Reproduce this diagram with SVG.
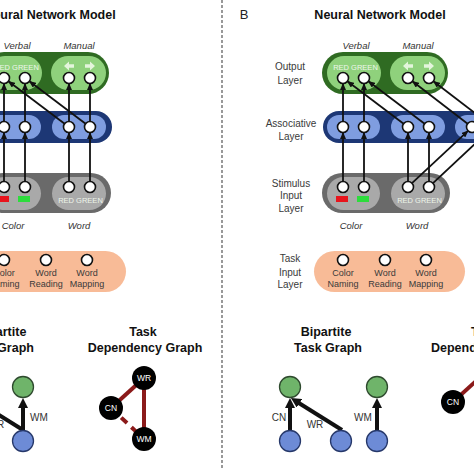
<svg xmlns="http://www.w3.org/2000/svg" width="474" height="474" viewBox="0 0 474 474">
<defs>
<style>
text{font-family:"Liberation Sans",Arial,sans-serif}
.title{font-weight:bold;font-size:12.5px;fill:#111;text-anchor:middle}
.lbl{font-size:10px;fill:#3a3a3a;text-anchor:middle}
.ital{font-style:italic;font-size:9.5px;fill:#333;text-anchor:middle}
.task{font-size:9px;fill:#3a3a3a;text-anchor:middle}
.wt{font-size:7.5px;fill:#eef6ea;text-anchor:middle}
.gl{font-size:10px;fill:#333;text-anchor:middle}
.dn{font-size:8.5px;text-anchor:middle}
.node{fill:#fff;stroke:#111;stroke-width:1.6}
.conn{stroke:#111;stroke-width:1.8;fill:none;marker-end:url(#ah)}
.big{stroke:#111;stroke-width:4;fill:none;marker-end:url(#bah)}
.gOut{fill:#2f6b22}.gIn{fill:#8fd17c}
.bOut{fill:#1d3775}.bIn{fill:#7f9de0}
.sOut{fill:#6a6a6a}.sIn{fill:#a9a9a9}
.tOut{fill:#f8bb97}
.ico{fill:#e4f5dc}
.gn{fill:#6fb46a;stroke:#2e4a2e;stroke-width:1.3}
.bn{fill:#6d8bd6;stroke:#26386a;stroke-width:1.3}
.dep{stroke:#8b1a1a;stroke-width:4;fill:none}
.dnode{fill:#000}
</style>
<marker id="ah" markerWidth="7" markerHeight="6" refX="6.5" refY="3" orient="auto" markerUnits="userSpaceOnUse"><path d="M0,0 L7,3 L0,6 z" fill="#111"/></marker>
<marker id="bah" markerWidth="10" markerHeight="10" refX="4" refY="5" orient="auto" markerUnits="userSpaceOnUse"><path d="M0,0 L10,5 L0,10 z" fill="#111"/></marker>
</defs>
<rect width="474" height="474" fill="#fff"/>

<!-- divider -->
<line x1="222" y1="0" x2="222" y2="470" stroke="#555" stroke-width="1.2" stroke-dasharray="3 2"/>

<!-- ===== Panel A (cut off) ===== -->
<text class="title" x="50" y="18.5">Neural Network Model</text>
<g transform="translate(-339,0)">
  <text class="ital" x="356" y="48.5">Verbal</text>
  <text class="ital" x="418" y="48.5">Manual</text>
  <g id="A-output-layer">
    <rect class="gOut" x="322" y="52" width="126" height="42" rx="21"/>
    <rect class="gIn" x="327" y="56" width="54" height="34" rx="17"/>
    <rect class="gIn" x="390" y="56" width="55" height="34" rx="17"/>
    <text class="wt" x="355.5" y="69.7">RED GREEN</text>
    <polygon class="ico" points="403,66 408,61.5 408,64.3 413,64.3 413,67.7 408,67.7 408,70.5"/>
    <polygon class="ico" points="434,66 429,61.5 429,64.3 424,64.3 424,67.7 429,67.7 429,70.5"/>
  </g>
  <g id="A-assoc-layer">
    <rect class="bOut" x="300" y="111" width="151" height="32" rx="16"/>
    <rect class="bIn" x="305" y="115" width="75" height="24" rx="12"/>
    <rect class="bIn" x="391" y="115" width="54" height="24" rx="12"/>
  </g>
  <g id="A-stimulus-layer">
    <rect class="sOut" x="322" y="173" width="128" height="40" rx="20"/>
    <rect class="sIn" x="327" y="177" width="53" height="33" rx="16.5"/>
    <rect class="sIn" x="391" y="177" width="54" height="33" rx="16.5"/>
    <rect x="336" y="196" width="12" height="6" fill="#e8141c"/>
    <rect x="357" y="196" width="12" height="6" fill="#2ddc3c"/>
    <text class="wt" x="419.5" y="202.7">RED GREEN</text>
  </g>
  <text class="ital" x="352" y="228.5">Color</text>
  <text class="ital" x="418" y="228.5">Word</text>
  <g id="A-task-layer">
    <rect class="tOut" x="314" y="251" width="151" height="41" rx="20.5"/>
    <text class="task" x="343" y="276">Color</text><text class="task" x="343" y="287">Naming</text>
    <text class="task" x="385" y="276">Word</text><text class="task" x="385" y="287">Reading</text>
    <text class="task" x="426" y="276">Word</text><text class="task" x="426" y="287">Mapping</text>
  </g>
  <g id="A-connectors">
    <line class="conn" x1="343" y1="181.5" x2="343" y2="132.5"/>
    <line class="conn" x1="364" y1="181.5" x2="364" y2="132.5"/>
    <line class="conn" x1="408" y1="181.5" x2="408" y2="132.5"/>
    <line class="conn" x1="429" y1="181.5" x2="429" y2="132.5"/>
    <line class="conn" x1="343" y1="121.5" x2="343" y2="83.5"/>
    <line class="conn" x1="364" y1="121.5" x2="364" y2="83.5"/>
    <line class="conn" x1="408" y1="121.5" x2="408" y2="83.5"/>
    <line class="conn" x1="429" y1="121.5" x2="429" y2="83.5"/>
    <line class="conn" x1="403.6" y1="123.7" x2="347.4" y2="81.3"/>
    <line class="conn" x1="424.6" y1="123.7" x2="368.4" y2="81.3"/>
  </g>
  <g id="A-nodes">
    <circle class="node" cx="343" cy="78" r="5.5"/><circle class="node" cx="364" cy="78" r="5.5"/>
    <circle class="node" cx="408" cy="78" r="5.5"/><circle class="node" cx="429" cy="78" r="5.5"/>
    <circle class="node" cx="343" cy="127" r="5.5"/><circle class="node" cx="364" cy="127" r="5.5"/>
    <circle class="node" cx="408" cy="127" r="5.5"/><circle class="node" cx="429" cy="127" r="5.5"/>
    <circle class="node" cx="343" cy="187" r="5.5"/><circle class="node" cx="364" cy="187" r="5.5"/>
    <circle class="node" cx="408" cy="187" r="5.5"/><circle class="node" cx="429" cy="187" r="5.5"/>
    <circle class="node" cx="343" cy="260" r="5.5"/><circle class="node" cx="385" cy="260" r="5.5"/>
    <circle class="node" cx="426" cy="260" r="5.5"/>
  </g>
</g>

<!-- A bipartite (cut) -->
<text class="title" x="1" y="336">Bipartite</text>
<text class="title" x="0" y="352">Task Graph</text>
<g id="A-bipartite-edges">
  <line class="big" x1="23" y1="430" x2="-28" y2="398" style="marker-end:none"/>
  <line class="big" x1="23" y1="430" x2="23" y2="404"/>
</g>
<g id="A-bip-green"><circle class="gn" cx="23" cy="387" r="10.5"/></g>
<g id="A-bip-blue"><circle class="bn" cx="23" cy="441" r="10.5"/></g>
<text class="gl" x="39" y="421">WM</text>
<text class="gl" x="-4" y="428">WR</text>

<!-- A task dependency graph -->
<text class="title" x="143" y="336">Task</text>
<text class="title" x="145" y="352">Dependency Graph</text>
<g id="A-dep-edges">
  <line class="dep" x1="111" y1="408" x2="144" y2="378"/>
  <line class="dep" x1="144" y1="378" x2="144" y2="439"/>
  <line class="dep" x1="111" y1="408" x2="144" y2="439" stroke-dasharray="8 6"/>
</g>
<g id="A-WR"><circle class="dnode" cx="144" cy="378" r="12"/><text class="dn" x="144" y="381" fill="#ffffff">WR</text></g>
<g id="A-CN"><circle class="dnode" cx="111" cy="408" r="12"/><text class="dn" x="111" y="411" fill="#ffffff">CN</text></g>
<g id="A-WM"><circle class="dnode" cx="144" cy="439" r="12"/><text class="dn" x="144" y="442" fill="#ffffff">WM</text></g>

<!-- ===== Panel B ===== -->
<text x="244" y="18.5" style="font-size:13px;fill:#222;text-anchor:middle">B</text>
<text class="title" x="380" y="18.5">Neural Network Model</text>
<text class="ital" x="356" y="48.5">Verbal</text>
<text class="ital" x="418" y="48.5">Manual</text>
<text class="lbl" x="290" y="69.5">Output</text><text class="lbl" x="290" y="83.5">Layer</text>
<text class="lbl" x="291" y="126.5">Associative</text><text class="lbl" x="291" y="139.5">Layer</text>
<text class="lbl" x="291" y="186.5">Stimulus</text><text class="lbl" x="291" y="198.5">Input</text><text class="lbl" x="291" y="211.5">Layer</text>
<text class="lbl" x="290" y="261.5">Task</text><text class="lbl" x="290" y="275.5">Input</text><text class="lbl" x="290" y="287.5">Layer</text>

<g id="B-output-layer">
  <rect class="gOut" x="322" y="52" width="126" height="42" rx="21"/>
  <rect class="gIn" x="327" y="56" width="54" height="34" rx="17"/>
  <rect class="gIn" x="390" y="56" width="55" height="34" rx="17"/>
  <text class="wt" x="355.5" y="69.7">RED GREEN</text>
  <polygon class="ico" points="403,66 408,61.5 408,64.3 413,64.3 413,67.7 408,67.7 408,70.5"/>
  <polygon class="ico" points="434,66 429,61.5 429,64.3 424,64.3 424,67.7 429,67.7 429,70.5"/>
</g>
<g id="B-assoc-layer">
  <rect class="bOut" x="323" y="111" width="240" height="32" rx="16"/>
  <rect class="bIn" x="327" y="115" width="53" height="24" rx="12"/>
  <rect class="bIn" x="391" y="115" width="54" height="24" rx="12"/>
  <rect class="bIn" x="455" y="115" width="54" height="24" rx="12"/>
</g>
<g id="B-stimulus-layer">
  <rect class="sOut" x="322" y="173" width="128" height="40" rx="20"/>
  <rect class="sIn" x="327" y="177" width="53" height="33" rx="16.5"/>
  <rect class="sIn" x="391" y="177" width="54" height="33" rx="16.5"/>
  <rect x="336" y="196" width="12" height="6" fill="#e8141c"/>
  <rect x="357" y="196" width="12" height="6" fill="#2ddc3c"/>
  <text class="wt" x="419.5" y="202.7">RED GREEN</text>
</g>
<text class="ital" x="351" y="228.5">Color</text>
<text class="ital" x="417" y="228.5">Word</text>
<g id="B-task-layer">
  <rect class="tOut" x="314" y="251" width="151" height="41" rx="20.5"/>
  <text class="task" x="343" y="276">Color</text><text class="task" x="343" y="287">Naming</text>
  <text class="task" x="385" y="276">Word</text><text class="task" x="385" y="287">Reading</text>
  <text class="task" x="426" y="276">Word</text><text class="task" x="426" y="287">Mapping</text>
</g>
<g id="B-connectors">
  <line class="conn" x1="343" y1="181.5" x2="343" y2="132.5"/>
  <line class="conn" x1="364" y1="181.5" x2="364" y2="132.5"/>
  <line class="conn" x1="408" y1="181.5" x2="408" y2="132.5"/>
  <line class="conn" x1="429" y1="181.5" x2="429" y2="132.5"/>
  <line class="conn" x1="343" y1="121.5" x2="343" y2="83.5"/>
  <line class="conn" x1="364" y1="121.5" x2="364" y2="83.5"/>
  <line class="conn" x1="403.6" y1="123.7" x2="347.4" y2="81.3"/>
  <line class="conn" x1="424.6" y1="123.7" x2="368.4" y2="81.3"/>
  <line class="conn" x1="467.6" y1="123.7" x2="412.4" y2="81.3"/>
  <line class="conn" x1="488.6" y1="123.7" x2="433.4" y2="81.3"/>
  <line class="conn" x1="412" y1="183.2" x2="468" y2="130.8"/>
  <line class="conn" x1="433" y1="183.2" x2="489" y2="130.8"/>
</g>
<g id="B-nodes">
  <circle class="node" cx="343" cy="78" r="5.5"/><circle class="node" cx="364" cy="78" r="5.5"/>
  <circle class="node" cx="408" cy="78" r="5.5"/><circle class="node" cx="429" cy="78" r="5.5"/>
  <circle class="node" cx="343" cy="127" r="5.5"/><circle class="node" cx="364" cy="127" r="5.5"/>
  <circle class="node" cx="408" cy="127" r="5.5"/><circle class="node" cx="429" cy="127" r="5.5"/>
  <circle class="node" cx="472" cy="127" r="5.5"/><circle class="node" cx="493" cy="127" r="5.5"/>
  <circle class="node" cx="343" cy="187" r="5.5"/><circle class="node" cx="364" cy="187" r="5.5"/>
  <circle class="node" cx="408" cy="187" r="5.5"/><circle class="node" cx="429" cy="187" r="5.5"/>
  <circle class="node" cx="343" cy="260" r="5.5"/><circle class="node" cx="385" cy="260" r="5.5"/>
  <circle class="node" cx="426" cy="260" r="5.5"/>
</g>

<!-- B bipartite -->
<text class="title" x="326" y="336">Bipartite</text>
<text class="title" x="328" y="352">Task Graph</text>
<g id="B-bipartite-edges">
  <line class="big" x1="290" y1="430" x2="290" y2="404"/>
  <line class="big" x1="342" y1="430" x2="296" y2="401.2"/>
  <line class="big" x1="377" y1="430" x2="377" y2="404"/>
</g>
<g id="B-green-verbal"><circle class="gn" cx="290" cy="387" r="10.5"/></g>
<g id="B-green-manual"><circle class="gn" cx="377" cy="387" r="10.5"/></g>
<g id="B-blue-color"><circle class="bn" cx="290" cy="441" r="10.5"/></g>
<g id="B-blue-word1"><circle class="bn" cx="341" cy="441" r="10.5"/></g>
<g id="B-blue-word2"><circle class="bn" cx="377" cy="441" r="10.5"/></g>
<text class="gl" x="279" y="421">CN</text>
<text class="gl" x="315" y="428">WR</text>
<text class="gl" x="363" y="421">WM</text>

<!-- B task dependency (cut) -->
<text class="title" x="471" y="336" style="text-anchor:start">Task</text>
<text class="title" x="431" y="352" style="text-anchor:start">Dependency Graph</text>
<g id="B-dep-edges"><line class="dep" x1="453" y1="402" x2="486" y2="372"/></g>
<g id="B-CN"><circle class="dnode" cx="453" cy="402" r="12"/><text class="dn" x="453" y="405" fill="#ffffff">CN</text></g>
</svg>
